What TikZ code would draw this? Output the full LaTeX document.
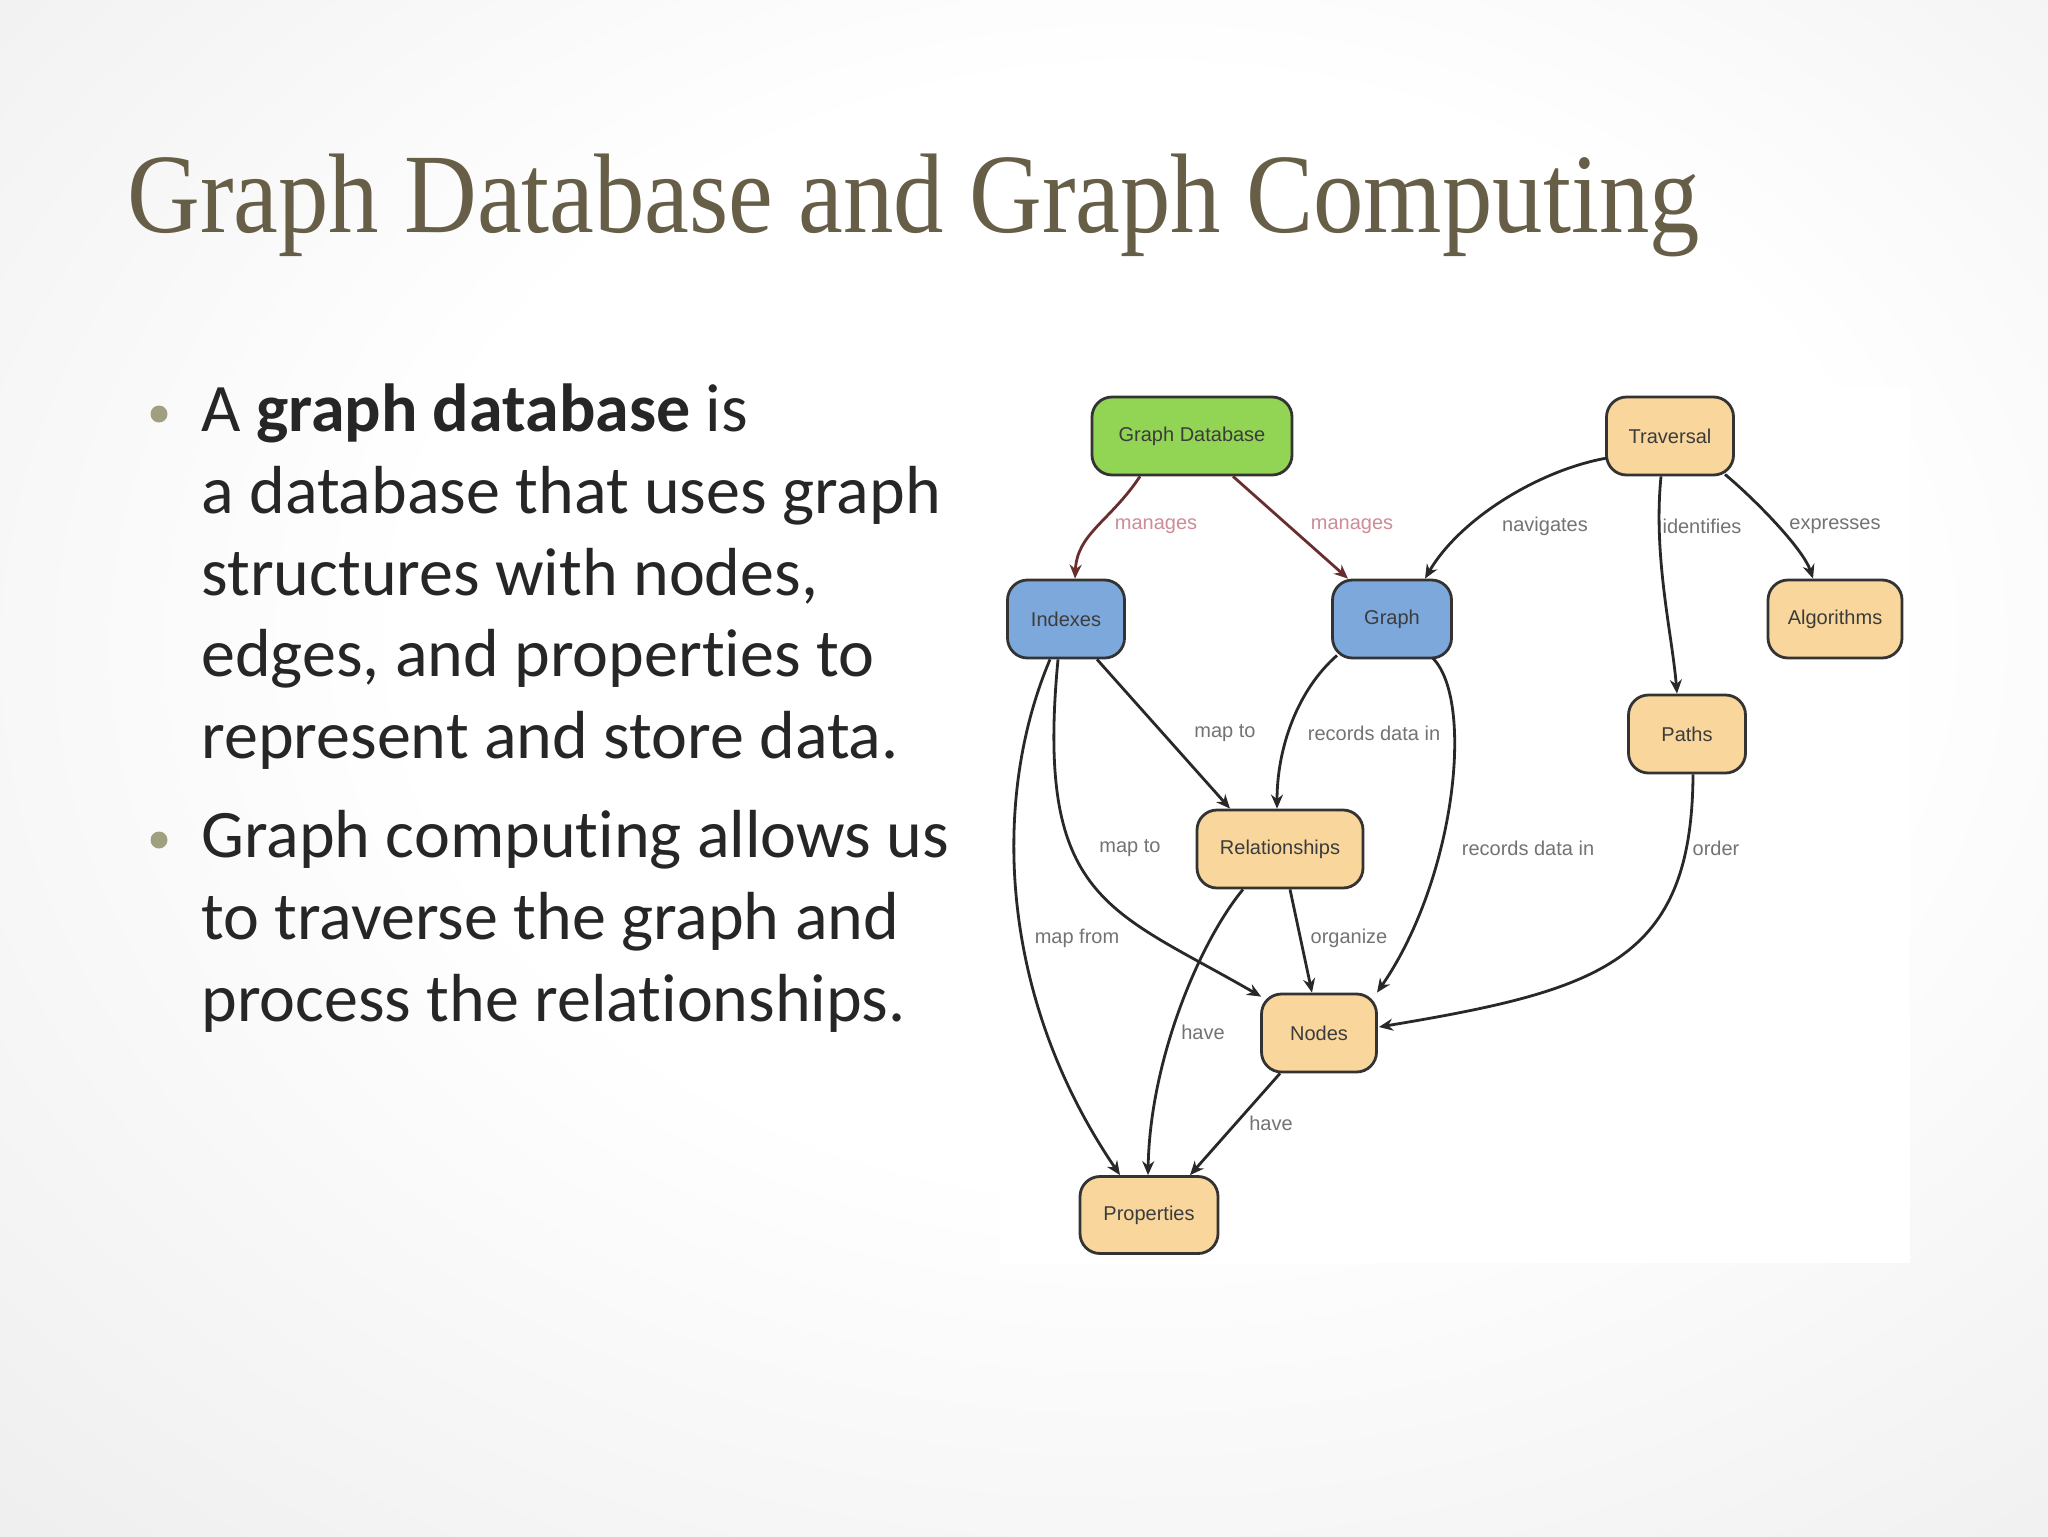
\documentclass[tikz,border=0pt]{standalone}
\usepackage{graphicx}
\usepackage{fontspec}
\setmainfont{Carlito}[Ligatures={NoCommon}]
\newfontfamily\titlefont{Liberation Serif}
\newfontfamily\diagfont{Liberation Sans}
\usetikzlibrary{arrows.meta,calc}
\definecolor{titlecol}{RGB}{103,94,71}
\definecolor{bodycol}{RGB}{38,38,38}
\definecolor{bulletcol}{RGB}{160,160,128}
\definecolor{gdbgreen}{RGB}{146,212,84}
\definecolor{idxblue}{RGB}{124,168,220}
\definecolor{tanfill}{RGB}{248,214,156}
\definecolor{edgecol}{RGB}{40,40,40}
\definecolor{redline}{RGB}{105,45,45}
\definecolor{redlabel}{RGB}{205,140,150}
\definecolor{labelcol}{RGB}{115,115,115}
\definecolor{boxtext}{RGB}{60,60,60}
\definecolor{bgedge}{RGB}{192,192,192}
\definecolor{bgmid}{RGB}{236,236,236}
\pgfdeclareradialshading{slidebg}{\pgfpoint{4bp}{6bp}}{color(0bp)=(white); color(18bp)=(white); color(42bp)=(bgmid); color(72bp)=(bgedge)}
\begin{document}
\begin{tikzpicture}[x=0.5pt,y=-0.5pt,
  box/.style={draw=black!80, line width=1.4pt, rounded corners=10pt, inner sep=0pt,
    minimum height=39pt, font=\diagfont\fontsize{10}{12}\selectfont, text=boxtext},
  arr/.style={draw=edgecol, line width=1.4pt, -{Stealth[length=7pt,width=6pt]}},
  redarr/.style={arr, draw=redline},
  lbl/.style={font=\diagfont\fontsize{10}{12}\selectfont, text=labelcol, inner sep=1pt},
  redlbl/.style={lbl, text=redlabel},
  bodyline/.style={anchor=base west, inner sep=0pt, font=\fontsize{34}{41}\selectfont, text=bodycol},
  bullet/.style={circle, fill=bulletcol, minimum size=8.5pt, inner sep=0pt},
]
\useasboundingbox (0,0) rectangle (2048,1536);
\shade[shading=slidebg] (0,0) rectangle (2048,1536);

% title
\node[anchor=base west, inner sep=0pt, text=titlecol, font=\titlefont\fontsize{56.6}{60}\selectfont]
  (title) at (127,232) {\scalebox{0.89}[1]{Graph Database and Graph Computing}};

% bullets
\node[bullet] (b1) at (159,414) {};
\node[bodyline] (l1) at (201,431) {A \textbf{graph database} is};
\node[bodyline] (l2) at (201,513) {a database that uses graph};
\node[bodyline] (l3) at (201,595) {structures with nodes,};
\node[bodyline] (l4) at (201,676) {edges, and properties to};
\node[bodyline] (l5) at (201,758) {represent and store data.};
\node[bullet] (b2) at (159,840) {};
\node[bodyline] (l6) at (201,857) {Graph computing allows us};
\node[bodyline] (l7) at (201,939) {to traverse the graph and};
\node[bodyline] (l8) at (201,1021) {process the relationships.};

% diagram panel
\fill[white] (1000,388) rectangle (1910,1263);

% nodes
\node[box, fill=gdbgreen, minimum width=100pt] (gdb) at (1192,436) {Graph Database};
\node[box, fill=tanfill, minimum width=63.5pt] (trav) at (1670,436) {Traversal};
\node[box, fill=idxblue, minimum width=58.5pt] (idx) at (1066,619) {Indexes};
\node[box, fill=idxblue, minimum width=59.5pt] (graph) at (1392,619) {Graph};
\node[box, fill=tanfill, minimum width=67pt] (algo) at (1835,619) {Algorithms};
\node[box, fill=tanfill, minimum width=58.5pt] (paths) at (1687,734) {Paths};
\node[box, fill=tanfill, minimum width=83pt] (rel) at (1280,849) {Relationships};
\node[box, fill=tanfill, minimum width=57.5pt] (nodes) at (1319,1033) {Nodes};
\node[box, fill=tanfill, minimum width=69pt, minimum height=38.5pt] (props) at (1149,1215) {Properties};

% edges
\draw[redarr] ($(gdb.south)+(-52,0)$) .. controls +(-30,45) and +(2,-45) .. ($(idx.north)+(9,0)$);
\draw[redarr] ($(gdb.south)+(41,0)$) -- ($(graph.north)+(-44,0)$);
\draw[arr] ($(trav.west)+(2,22)$) .. controls +(-68,12) and +(35,-60) .. ($(graph.north)+(33,0)$);
\draw[arr] ($(trav.south)+(-9,0)$) .. controls +(-8,80) and +(-5,-60) .. ($(paths.north)+(-10,0)$);
\draw[arr] ($(trav.south)+(55,-2)$) .. controls +(30,25) and +(-10,-30) .. ($(algo.north)+(-22,0)$);
\draw[arr] ($(idx.south)+(31,0)$) -- ($(rel.north)+(-50,0)$);
\draw[arr] ($(graph.south)+(-55,-4)$) .. controls +(-40,35) and +(0,-60) .. ($(rel.north)+(-3,0)$);
\draw[arr] ($(graph.south)+(41,-1)$) .. controls +(42,43) and +(78,-113) .. ($(nodes.north)+(58,0)$);
\draw[arr] ($(idx.south)+(-8,0)$) .. controls +(-23,242) and +(-152,-88) .. ($(nodes.north west)+(1,4)$);
\draw[arr] ($(idx.south)+(-16,0)$) .. controls +(-60,142) and +(-120,-176) .. ($(props.north)+(-29,0)$);
\draw[arr] ($(rel.south)+(-37,0)$) .. controls +(-43,52) and +(2,-116) .. ($(props.north)+(-1,0)$);
\draw[arr] ($(rel.south)+(10,0)$) -- ($(nodes.north)+(-7,0)$);
\draw[arr] ($(paths.south)+(6,0)$) .. controls +(-1,187) and +(222,-37) .. ($(nodes.east)+(1,-6)$);
\draw[arr] ($(nodes.south)+(-39,0)$) -- ($(props.north)+(41,0)$);

% edge labels
\node[redlbl] (m1) at (1156,526) {manages};
\node[redlbl] (m2) at (1352,526) {manages};
\node[lbl] (nv) at (1545,526) {navigates};
\node[lbl] (idf) at (1702,526) {identifies};
\node[lbl] (ex) at (1835,526) {expresses};
\node[lbl] (mt1) at (1225,733) {map to};
\node[lbl] (rd1) at (1374,733) {records data in};
\node[lbl] (mt2) at (1130,848) {map to};
\node[lbl] (rd2) at (1528,848) {records data in};
\node[lbl] (ord) at (1716,848) {order};
\node[lbl] (mf) at (1077,938) {map from};
\node[lbl] (org) at (1349,938) {organize};
\node[lbl] (hv1) at (1203,1032) {have};
\node[lbl] (hv2) at (1271,1123) {have};
\end{tikzpicture}
\end{document}
